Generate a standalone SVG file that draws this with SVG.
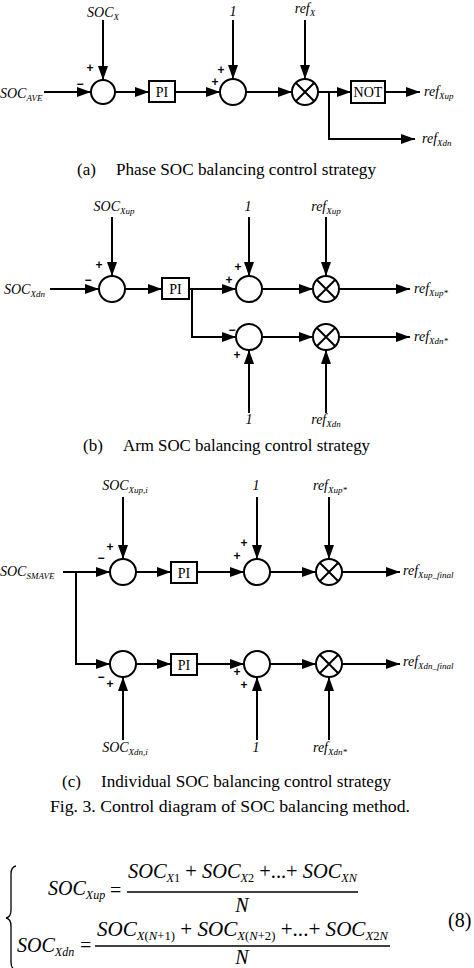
<svg xmlns="http://www.w3.org/2000/svg" width="474" height="968" viewBox="0 0 474 968">
<style>
.ln{stroke:#000;stroke-width:2;fill:none}
.ar{stroke:#000;stroke-width:2;fill:none;marker-end:url(#ah)}
.c{fill:#fff;stroke:#000;stroke-width:2}
.bx{fill:#fff;stroke:#000;stroke-width:2}
.m{font-family:"Liberation Serif","Times New Roman",serif;font-style:italic;font-size:14px;fill:#000}
.s{font-size:9px}
.t{font-family:"Liberation Serif","Times New Roman",serif;font-size:14px;fill:#000;text-anchor:middle}
.sg{font-family:"Liberation Sans",sans-serif;font-weight:bold;font-size:12px;fill:#000;text-anchor:middle}
.cap{font-family:"Liberation Serif","Times New Roman",serif;font-size:17px;fill:#000}
.eq{font-family:"Liberation Serif","Times New Roman",serif;font-style:italic;font-size:20px;fill:#000}
.up{font-style:normal}
.es{font-size:12px}
.bar{stroke:#000;stroke-width:1.3}
</style>
<defs>
<marker id="ah" viewBox="0 0 14 10" refX="14" refY="5" markerWidth="14" markerHeight="10" markerUnits="userSpaceOnUse" orient="auto">
<path d="M0,0 L14,5 L0,10 z" fill="#000"/>
</marker>
</defs>

<!-- (a) Phase SOC balancing -->
<g id="connectors-a">
<line class="ar" x1="44" y1="92" x2="91" y2="92"/>
<line class="ar" x1="103" y1="20" x2="103" y2="80"/>
<line class="ar" x1="115" y1="92" x2="149" y2="92"/>
<line class="ar" x1="175" y1="92" x2="220" y2="92"/>
<line class="ar" x1="233" y1="20" x2="233" y2="79"/>
<line class="ar" x1="246" y1="92" x2="292" y2="92"/>
<line class="ar" x1="305" y1="20" x2="305" y2="79"/>
<line class="ar" x1="318" y1="92" x2="351" y2="92"/>
<line class="ar" x1="385" y1="92" x2="420" y2="92"/>
<polyline class="ar" points="329,92 329,139 415,139"/>
</g>
<g id="a-sum1"><circle class="c" cx="103" cy="92" r="12"/>
<text class="sg" x="90" y="72">+</text><text class="sg" x="80" y="88">−</text></g>
<g id="a-pi"><rect class="bx" x="149" y="81" width="26" height="21"/><text class="t" x="162" y="97">PI</text></g>
<g id="a-sum2"><circle class="c" cx="233" cy="92" r="13"/>
<text class="sg" x="221" y="74">+</text><text class="sg" x="215" y="86">+</text></g>
<g id="a-mul"><circle class="c" cx="305" cy="92" r="13"/>
<path class="ln" d="M296,83 L314,101 M314,83 L296,101"/></g>
<g id="a-not"><rect class="bx" x="351" y="81" width="34" height="22"/><text class="t" x="368" y="97">NOT</text></g>
<g id="a-labels">
<text class="m" x="103" y="17" text-anchor="middle">SOC<tspan class="s" dy="3">X</tspan></text>
<text class="m" x="0" y="98">SOC<tspan class="s" dy="3">AVE</tspan></text>
<text class="m" x="233" y="16" text-anchor="middle">1</text>
<text class="m" x="305" y="13" text-anchor="middle">ref<tspan class="s" dy="3">X</tspan></text>
<text class="m" x="424" y="96">ref<tspan class="s" dy="3">Xup</tspan></text>
<text class="m" x="422" y="143">ref<tspan class="s" dy="3">Xdn</tspan></text>
</g>
<g id="cap-a"><text class="cap" x="77" y="175">(a)</text><text class="cap" x="116" y="175" textLength="260" lengthAdjust="spacingAndGlyphs">Phase SOC balancing control strategy</text></g>

<!-- (b) Arm SOC balancing -->
<g id="connectors-b">
<line class="ar" x1="50" y1="289" x2="99" y2="289"/>
<line class="ar" x1="112" y1="217" x2="112" y2="276"/>
<line class="ar" x1="125" y1="289" x2="162" y2="289"/>
<line class="ar" x1="189" y1="289" x2="236" y2="289"/>
<polyline class="ar" points="192,289 192,337 236,337"/>
<line class="ar" x1="249" y1="217" x2="249" y2="276"/>
<line class="ar" x1="262" y1="289" x2="313" y2="289"/>
<line class="ar" x1="326" y1="217" x2="326" y2="276"/>
<line class="ar" x1="339" y1="289" x2="410" y2="289"/>
<line class="ar" x1="262" y1="337" x2="313" y2="337"/>
<line class="ar" x1="339" y1="337" x2="410" y2="337"/>
<line class="ar" x1="249" y1="413" x2="249" y2="350"/>
<line class="ar" x1="326" y1="413" x2="326" y2="350"/>
</g>
<g id="b-sum1"><circle class="c" cx="112" cy="289" r="13"/>
<text class="sg" x="99" y="269">+</text><text class="sg" x="88" y="284">−</text></g>
<g id="b-pi"><rect class="bx" x="162" y="278" width="27" height="21"/><text class="t" x="175.5" y="294">PI</text></g>
<g id="b-sum2"><circle class="c" cx="249" cy="289" r="13"/>
<text class="sg" x="238" y="271">+</text><text class="sg" x="229" y="284">+</text></g>
<g id="b-sum3"><circle class="c" cx="249" cy="337" r="13"/>
<text class="sg" x="232" y="334">−</text><text class="sg" x="237" y="359">+</text></g>
<g id="b-mul1"><circle class="c" cx="326" cy="289" r="13"/>
<path class="ln" d="M317,280 L335,298 M335,280 L317,298"/></g>
<g id="b-mul2"><circle class="c" cx="326" cy="337" r="13"/>
<path class="ln" d="M317,328 L335,346 M335,328 L317,346"/></g>
<g id="b-labels">
<text class="m" x="114" y="211" text-anchor="middle">SOC<tspan class="s" dy="3">Xup</tspan></text>
<text class="m" x="4" y="294">SOC<tspan class="s" dy="3">Xdn</tspan></text>
<text class="m" x="248" y="211" text-anchor="middle">1</text>
<text class="m" x="326" y="211" text-anchor="middle">ref<tspan class="s" dy="3">Xup</tspan></text>
<text class="m" x="414" y="293">ref<tspan class="s" dy="3">Xup*</tspan></text>
<text class="m" x="414" y="341">ref<tspan class="s" dy="3">Xdn*</tspan></text>
<text class="m" x="249" y="424" text-anchor="middle">1</text>
<text class="m" x="326" y="424" text-anchor="middle">ref<tspan class="s" dy="3">Xdn</tspan></text>
</g>
<g id="cap-b"><text class="cap" x="83" y="451">(b)</text><text class="cap" x="123" y="451" textLength="247" lengthAdjust="spacingAndGlyphs">Arm SOC balancing control strategy</text></g>

<!-- (c) Individual SOC balancing -->
<g id="connectors-c">
<line class="ar" x1="63" y1="572" x2="110" y2="572"/>
<polyline class="ar" points="76,572 76,664 110,664"/>
<line class="ar" x1="123" y1="497" x2="123" y2="559"/>
<line class="ar" x1="136" y1="572" x2="171" y2="572"/>
<line class="ar" x1="197" y1="572" x2="244" y2="572"/>
<line class="ar" x1="257" y1="497" x2="257" y2="559"/>
<line class="ar" x1="270" y1="572" x2="316" y2="572"/>
<line class="ar" x1="329" y1="497" x2="329" y2="559"/>
<line class="ar" x1="342" y1="572" x2="400" y2="572"/>
<line class="ar" x1="136" y1="664" x2="171" y2="664"/>
<line class="ar" x1="197" y1="664" x2="244" y2="664"/>
<line class="ar" x1="270" y1="664" x2="316" y2="664"/>
<line class="ar" x1="342" y1="664" x2="400" y2="664"/>
<line class="ar" x1="123" y1="740" x2="123" y2="677"/>
<line class="ar" x1="257" y1="740" x2="257" y2="677"/>
<line class="ar" x1="329" y1="740" x2="329" y2="677"/>
</g>
<g id="c-sum1"><circle class="c" cx="123" cy="572" r="13"/>
<text class="sg" x="110" y="551">+</text><text class="sg" x="101" y="562">−</text></g>
<g id="c-pi1"><rect class="bx" x="171" y="562" width="26" height="21"/><text class="t" x="184" y="578">PI</text></g>
<g id="c-sum2"><circle class="c" cx="257" cy="572" r="13"/>
<text class="sg" x="244" y="547">+</text><text class="sg" x="237" y="560">+</text></g>
<g id="c-mul1"><circle class="c" cx="329" cy="572" r="13"/>
<path class="ln" d="M320,563 L338,581 M338,563 L320,581"/></g>
<g id="c-sum3"><circle class="c" cx="123" cy="664" r="13"/>
<text class="sg" x="101" y="681">−</text><text class="sg" x="110" y="688">+</text></g>
<g id="c-pi2"><rect class="bx" x="171" y="654" width="26" height="21"/><text class="t" x="184" y="670">PI</text></g>
<g id="c-sum4"><circle class="c" cx="257" cy="664" r="13"/>
<text class="sg" x="237" y="676">+</text><text class="sg" x="244" y="689">+</text></g>
<g id="c-mul2"><circle class="c" cx="329" cy="664" r="13"/>
<path class="ln" d="M320,655 L338,673 M338,655 L320,673"/></g>
<g id="c-labels">
<text class="m" x="125" y="490" text-anchor="middle">SOC<tspan class="s" dy="3">Xup,i</tspan></text>
<text class="m" x="0" y="576">SOC<tspan class="s" dy="3">SMAVE</tspan></text>
<text class="m" x="256" y="490" text-anchor="middle">1</text>
<text class="m" x="330" y="490" text-anchor="middle">ref<tspan class="s" dy="3">Xup*</tspan></text>
<text class="m" x="403" y="575">ref<tspan class="s" dy="3">Xup_final</tspan></text>
<text class="m" x="403" y="666">ref<tspan class="s" dy="3">Xdn_final</tspan></text>
<text class="m" x="125" y="752" text-anchor="middle">SOC<tspan class="s" dy="3">Xdn,i</tspan></text>
<text class="m" x="256" y="752" text-anchor="middle">1</text>
<text class="m" x="330" y="752" text-anchor="middle">ref<tspan class="s" dy="3">Xdn*</tspan></text>
</g>
<g id="cap-c"><text class="cap" x="62" y="787">(c)</text><text class="cap" x="101" y="787" textLength="290" lengthAdjust="spacingAndGlyphs">Individual SOC balancing control strategy</text>
<text class="cap" x="50" y="812" textLength="360" lengthAdjust="spacingAndGlyphs">Fig. 3. Control diagram of SOC balancing method.</text></g>

<!-- Equation (8) -->
<g id="equation">
<path d="M16,866 Q11,867 11,874 L11,910 Q11,917 6,918 Q11,919 11,926 L11,962 Q11,969 16,970" fill="none" stroke="#000" stroke-width="1.3"/>
<text class="eq" x="48" y="895">SOC<tspan class="es" dy="4">Xup</tspan></text>
<text class="eq up" x="110" y="897">=</text>
<text class="eq" x="128" y="878" textLength="229" lengthAdjust="spacingAndGlyphs">SOC<tspan class="es" dy="4">X</tspan><tspan class="es up">1</tspan><tspan class="up" dy="-4"> + </tspan>SOC<tspan class="es" dy="4">X</tspan><tspan class="es up">2</tspan><tspan class="up" dy="-4"> +...+ </tspan>SOC<tspan class="es" dy="4">XN</tspan></text>
<line class="bar" x1="127" y1="892" x2="358" y2="892"/>
<text class="eq" x="242" y="912" text-anchor="middle">N</text>
<text class="eq" x="17" y="952">SOC<tspan class="es" dy="4">Xdn</tspan></text>
<text class="eq up" x="80" y="952">=</text>
<text class="eq" x="97" y="936" textLength="291" lengthAdjust="spacingAndGlyphs">SOC<tspan class="es" dy="4">X</tspan><tspan class="es up">(</tspan><tspan class="es">N</tspan><tspan class="es up">+1)</tspan><tspan class="up" dy="-4"> + </tspan>SOC<tspan class="es" dy="4">X</tspan><tspan class="es up">(</tspan><tspan class="es">N</tspan><tspan class="es up">+2)</tspan><tspan class="up" dy="-4"> +...+ </tspan>SOC<tspan class="es" dy="4">X</tspan><tspan class="es up">2</tspan><tspan class="es">N</tspan></text>
<line class="bar" x1="95" y1="946" x2="390" y2="946"/>
<text class="eq" x="242" y="964" text-anchor="middle">N</text>
<text class="eq up" x="448" y="927">(8)</text>
</g>
</svg>
